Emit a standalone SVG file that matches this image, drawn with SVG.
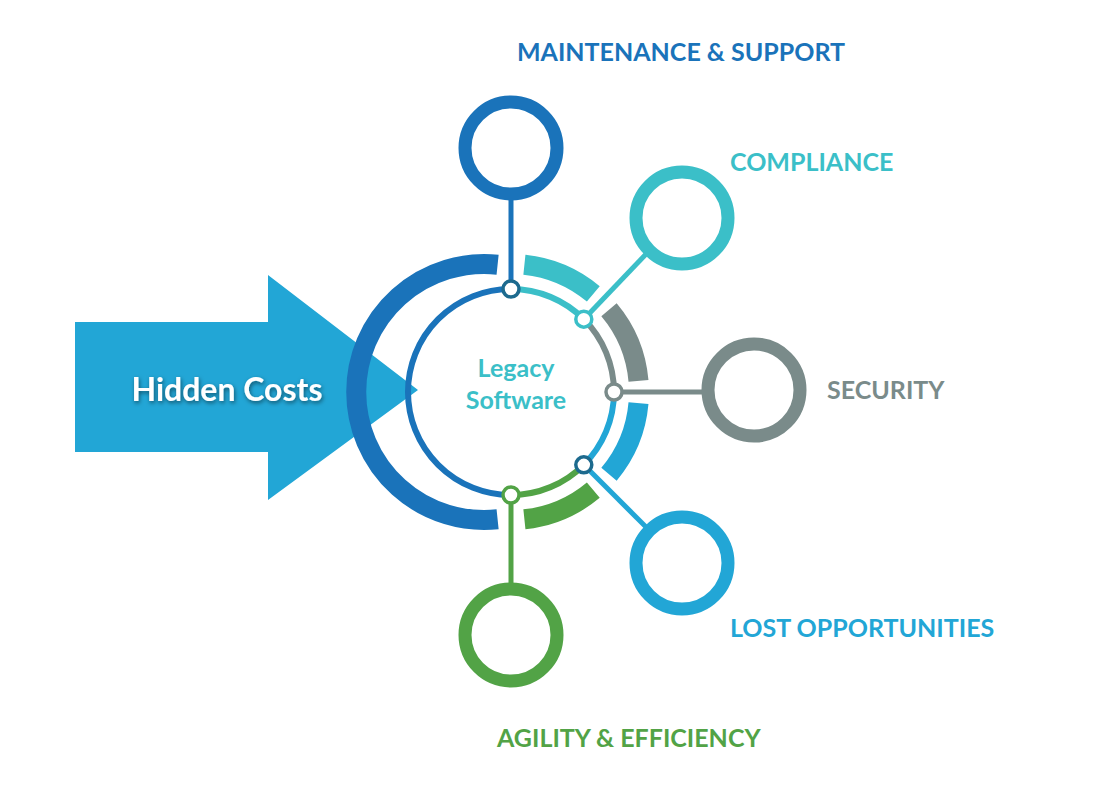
<svg xmlns="http://www.w3.org/2000/svg" width="1100" height="800" viewBox="0 0 1100 800">
<defs>
<style>
.lbl{font-family:Lato,"Open Sans",sans-serif;font-weight:bold;font-size:25px}
.arc{fill:none;stroke-width:20}
.ring{fill:none;stroke-width:6}
.big{fill:#fff;stroke-width:13}
.ln{stroke-width:5}
.dot{fill:#fff;stroke-width:3.5}
</style>
<filter id="sh" x="-10%" y="-30%" width="120%" height="160%"><feDropShadow dx="1" dy="2" stdDeviation="2" flood-color="#000" flood-opacity="0.5"/></filter>
</defs>
<rect width="1100" height="800" fill="#fff"/>
<g id="arrow">
<polygon points="75,322 268,322 268,275 418,390 268,500 268,452 75,452" fill="#22a6d6"/>
<text x="227" y="401" text-anchor="middle" font-family="Lato,'Open Sans',sans-serif" font-weight="bold" font-size="32" fill="#fff" filter="url(#sh)">Hidden Costs</text>
</g>
<g id="connectors">
<path class="arc" stroke="#3bbfc8" d="M524.4,264.7 A128,128 0 0 1 593.3,293.9"/>
<path class="arc" stroke="#7a8b8a" d="M609,309.7 A128,128 0 0 1 638.5,380.8"/>
<path class="arc" stroke="#22a6d6" d="M638.5,403.2 A128,128 0 0 1 609,474.3"/>
<path class="arc" stroke="#52a346" d="M593.3,490.1 A128,128 0 0 1 524.4,519.3"/>
<path class="arc" stroke="#1a73ba" d="M497.6,519.3 A128,128 0 1 1 497.6,264.7"/>
<path class="ring" stroke="#1a73ba" d="M511,495 A103,103 0 0 1 511,289"/>
<path class="ring" stroke="#3bbfc8" d="M511,289 A103,103 0 0 1 583.8,319.2"/>
<path class="ring" stroke="#7a8b8a" d="M583.8,319.2 A103,103 0 0 1 614,392"/>
<path class="ring" stroke="#22a6d6" d="M614,392 A103,103 0 0 1 583.8,464.8"/>
<path class="ring" stroke="#52a346" d="M583.8,464.8 A103,103 0 0 1 511,495"/>
<line class="ln" stroke="#1a73ba" x1="511" y1="289" x2="511" y2="200"/>
<line class="ln" stroke="#3bbfc8" x1="583.8" y1="319.2" x2="648" y2="252"/>
<line class="ln" stroke="#7a8b8a" x1="614" y1="392" x2="705" y2="392"/>
<line class="ln" stroke="#22a6d6" x1="583.8" y1="464.8" x2="648" y2="529"/>
<line class="ln" stroke="#52a346" x1="511" y1="495" x2="511" y2="583"/>
<circle class="dot" stroke="#1d6a8e" cx="511" cy="289" r="8"/>
<circle class="dot" stroke="#3bbfc8" cx="583.8" cy="319.2" r="8"/>
<circle class="dot" stroke="#7a8b8a" cx="614" cy="392" r="8"/>
<circle class="dot" stroke="#1d6a8e" cx="583.8" cy="464.8" r="8"/>
<circle class="dot" stroke="#52a346" cx="511" cy="495" r="8"/>
</g>
<g id="center">
<text class="lbl" x="516" y="377" text-anchor="middle" fill="#3bbfc8" font-size="24">Legacy</text>
<text class="lbl" x="516" y="409" text-anchor="middle" fill="#3bbfc8" font-size="24">Software</text>
</g>
<g id="maintenance"><circle class="big" stroke="#1a73ba" cx="511" cy="148" r="46"/>
<text class="lbl" x="681" y="61" text-anchor="middle" fill="#1a73ba">MAINTENANCE &amp; SUPPORT</text></g>
<g id="compliance"><circle class="big" stroke="#3bbfc8" cx="682" cy="218" r="46"/>
<text class="lbl" x="730" y="171" fill="#3bbfc8">COMPLIANCE</text></g>
<g id="security"><circle class="big" stroke="#7a8b8a" cx="754" cy="390" r="46"/>
<text class="lbl" x="827" y="399" fill="#7a8b8a">SECURITY</text></g>
<g id="lost"><circle class="big" stroke="#22a6d6" cx="682" cy="563" r="46"/>
<text class="lbl" x="730" y="637" fill="#22a6d6">LOST OPPORTUNITIES</text></g>
<g id="agility"><circle class="big" stroke="#52a346" cx="511" cy="635" r="46"/>
<text class="lbl" x="497" y="747" fill="#52a346">AGILITY &amp; EFFICIENCY</text></g>
</svg>
